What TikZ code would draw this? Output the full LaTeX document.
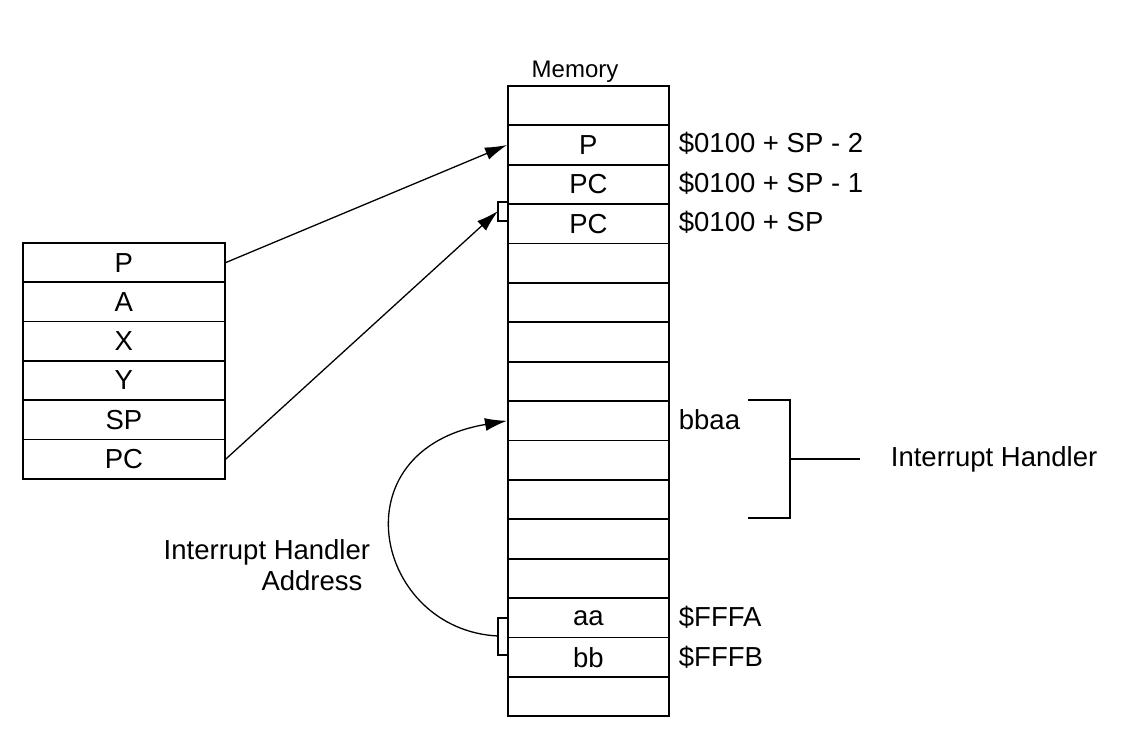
\documentclass[tikz,border=0pt]{standalone}
\usepackage{fontspec}
\setmainfont{Liberation Sans}
\usetikzlibrary{arrows.meta}
\begin{document}
\begin{tikzpicture}[x=1pt,y=-1pt,line width=1.8pt,
  cell/.style={draw,minimum width=161pt,minimum height=39.4pt,inner sep=0pt,anchor=north west},
  reg/.style={draw,minimum width=202pt,minimum height=39.3pt,inner sep=0pt,anchor=north west},
  lab/.style={anchor=west,inner sep=0pt},
  arr/.style={-{Latex[length=22pt,width=13pt]},line width=1.3pt},
  every node/.style={font=\fontsize{27.5}{31}\selectfont}]
\useasboundingbox (0,0) rectangle (1123,733);
\node[font=\fontsize{24}{28}\selectfont] at (575,72) (mem) {Memory};
\foreach \i/\t in {0/,1/P,2/PC,3/PC,4/,5/,6/,7/,8/,9/,10/,11/,12/,13/aa,14/bb,15/}
  \node[cell] (m\i) at (507,{85+\i*39.4}) {\t};
\foreach \i/\t in {0/P,1/A,2/X,3/Y,4/SP,5/PC}
  \node[reg] (r\i) at (22,{242+\i*39.3}) {\t};
\node[lab] (a1) at (678,143) {\$0100 + SP - 2};
\node[lab] (a2) at (678,183) {\$0100 + SP - 1};
\node[lab] (a3) at (678,222) {\$0100 + SP};
\node[lab] (a4) at (678,420) {bbaa};
\node[lab] (a5) at (678,617) {\$FFFA};
\node[lab] (a6) at (678,657) {\$FFFB};
\node[lab] (ih) at (890,459) {Interrupt Handler};
\node[anchor=east,inner sep=0pt] (iha1) at (371,552) {Interrupt Handler};
\node[inner sep=0pt] (iha2) at (312,581) {Address};
% small brackets
\draw[line width=1.2pt] (507,202) -- (498,202) -- (498,221) -- (507,221);
\draw[line width=1.2pt] (507,618) -- (498,618) -- (498,655) -- (507,655);
\coordinate (b1) at (498,211);
\coordinate (b2) at (498,636);
% handler bracket
\draw (748,400) -- (790,400) -- (790,518) -- (748,518);
\draw (790,459) -- (860,459);
% arrows
\draw[arr] (r0.east) -- (m1.west);
\draw[arr] (r5.east) -- (b1);
\draw[arr] (b2) .. controls (375,630) and (335,450) .. (m8.west);
\end{tikzpicture}
\end{document}
